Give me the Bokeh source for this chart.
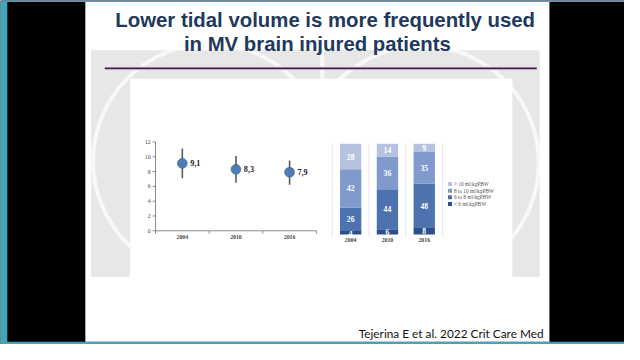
from bokeh.plotting import figure
from bokeh.models import Range1d
from bokeh.core.properties import value
from bokeh.embed import file_html
from bokeh.resources import INLINE

# ---------------- data ----------------
title_lines = ["Lower tidal volume is more frequently used", "in MV brain injured patients"]
citation = "Tejerina E et al. 2022 Crit Care Med"

years = ["2004", "2010", "2016"]
vt_mean = [9.1, 8.3, 7.9]
vt_low = [7.1, 6.5, 6.2]
vt_high = [11.1, 10.1, 9.5]
vt_labels = ["9,1", "8,3", "7,9"]
y_ticks = [0, 2, 4, 6, 8, 10, 12]

groups = ["< 6 ml/kgPBW", "6 to 8 ml/kgPBW", "8 to 10 ml/kgPBW", "> 10 ml/kgPBW"]
pct_lt6 = [4, 6, 8]
pct_6to8 = [26, 44, 48]
pct_8to10 = [42, 36, 35]
pct_gt10 = [28, 14, 9]
group_colors = ["#2D4E86", "#4C72B0", "#7F9ACB", "#B5C3E0"]

# ---------------- figure: whole 640x360 slide scene mapped into the plot ----------------
W, H = 624, 344
SW, SH = 640, 360
p = figure(width=W, height=H, x_range=Range1d(0, SW), y_range=Range1d(SH, 0),
           output_backend="svg", toolbar_location=None, min_border=0)
p.axis.visible = False
p.grid.visible = False
p.outline_line_color = None
p.background_fill_color = "#000000"
p.border_fill_color = "#000000"

def fs(px):
    return "%.2fpx" % (px * 0.97)

# frame edges (teal)
p.quad(left=0, right=SW, top=0, bottom=SH, fill_color="#3FA6BB", line_color=None)
p.quad(left=7, right=SW, top=1.5, bottom=357, fill_color="#000000", line_color=None)
# slide
p.quad(left=87, right=563, top=1.5, bottom=357, fill_color="#FFFFFF", line_color=None)
# grey watermark panel
p.quad(left=93, right=553, top=52, bottom=289, fill_color="#E7E7E7", line_color=None)
p.circle(x=[215, 432], y=[168, 170], radius=[120, 120], fill_color=None,
         line_color="#FFFFFF", line_width=4, line_alpha=0.7)
p.segment(x0=[330], y0=[52], x1=[330], y1=[82], line_color="#FFFFFF", line_width=4, line_alpha=0.7)
p.quad(left=133, right=525, top=82, bottom=300, fill_color="#FFFFFF", line_color=None)

# title
title_font = value("Liberation Sans")
p.text(x=[333, 325], y=[20, 45], text=title_lines, text_font=title_font,
       text_font_size=fs(21), text_font_style="bold", text_color="#22395C",
       text_align="center", text_baseline="middle")
# rule under title
p.segment(x0=[107], y0=[71], x1=[550], y1=[71], line_color="#F2D8EE", line_width=4)
p.segment(x0=[107], y0=[71], x1=[550], y1=[71], line_color="#3A2148", line_width=1.6)

# citation
p.text(x=[557], y=[348], text=[citation], text_font=value("Lato"), text_font_size=fs(12.2),
       text_color="#111111", text_align="right", text_baseline="middle")

# ---------------- chart scales ----------------
lx0, lstep = 159, 55.0
ly0, lscale = 241, 7.75
rx0, rstep = 340.25, 37.75
ry0, rscale = 245, 0.95
p.extra_x_ranges = {
    "lx": Range1d((0 - lx0) / lstep, (SW - lx0) / lstep),
    "rx": Range1d((0 - rx0) / rstep, (SW - rx0) / rstep),
}
p.extra_y_ranges = {
    "ly": Range1d((ly0 - SH) / lscale, (ly0 - 0) / lscale),
    "ry": Range1d((ry0 - SH) / rscale, (ry0 - 0) / rscale),
}
L = dict(x_range_name="lx", y_range_name="ly")
R = dict(x_range_name="rx", y_range_name="ry")

# ---------------- left chart: mean tidal volume ----------------
xs = [i + 0.5 for i in range(len(years))]
axis_col = "#8A8A8A"
serif = value("Liberation Serif")
p.segment(x0=[0], y0=[0], x1=[0], y1=[12], line_color=axis_col, line_width=1, **L)
p.segment(x0=[0], y0=[0], x1=[len(years)], y1=[0], line_color=axis_col, line_width=1, **L)
p.segment(x0=[-3 / lstep] * len(y_ticks), y0=y_ticks, x1=[0] * len(y_ticks), y1=y_ticks,
          line_color=axis_col, line_width=1, **L)
p.segment(x0=list(range(len(years) + 1)), y0=[0] * (len(years) + 1),
          x1=list(range(len(years) + 1)), y1=[-3 / lscale] * (len(years) + 1),
          line_color=axis_col, line_width=1, **L)
p.text(x=[-5 / lstep] * len(y_ticks), y=y_ticks, text=[str(t) for t in y_ticks],
       text_font=serif, text_font_size=fs(6), text_color="#444444",
       text_align="right", text_baseline="middle", **L)
p.text(x=xs, y=[-6 / lscale] * len(years), text=years, text_font=serif, text_font_size=fs(6),
       text_font_style="bold", text_color="#444444", text_align="center", text_baseline="middle", **L)
p.segment(x0=xs, y0=vt_low, x1=xs, y1=vt_high, line_color="#5A5A5A", line_width=1.6, **L)
p.scatter(x=xs, y=vt_mean, size=9.7, fill_color="#4F7CB5", line_color="#3F6699", line_width=0.8, **L)
p.text(x=[x + 8 / lstep for x in xs], y=vt_mean, text=vt_labels, text_font=serif,
       text_font_size=fs(8.5), text_font_style="bold", text_color="#1E1E1E",
       text_align="left", text_baseline="middle", **L)

# ---------------- right chart: stacked distribution ----------------
p.segment(x0=list(range(len(years) + 1)), y0=[-3] * (len(years) + 1),
          x1=list(range(len(years) + 1)), y1=[101] * (len(years) + 1),
          line_color="#E6E6E6", line_width=1, **R)
stack = [pct_lt6, pct_6to8, pct_8to10, pct_gt10]
bottoms = [0.0] * len(years)
for vals, col in zip(stack, group_colors):
    tops = [b + v for b, v in zip(bottoms, vals)]
    p.vbar(x=xs, width=0.58, bottom=bottoms, top=tops, fill_color=col, line_color=None, **R)
    p.text(x=xs, y=[(b + t) / 2 for b, t in zip(bottoms, tops)], text=[str(v) for v in vals],
           text_font=serif, text_font_size=fs(8), text_font_style="bold", text_color="#FFFFFF",
           text_align="center", text_baseline="middle", **R)
    bottoms = tops
p.text(x=xs, y=[-5.5] * len(years), text=years, text_font=serif, text_font_size=fs(6),
       text_font_style="bold", text_color="#444444", text_align="center", text_baseline="middle", **R)

# legend (top item = highest group)
leg_x = 461
leg_y = [192, 199, 206, 213]
leg_names = groups[::-1]
leg_cols = group_colors[::-1]
p.scatter(x=[leg_x] * 4, y=leg_y, marker="square", size=4, fill_color=leg_cols, line_color=None)
p.text(x=[leg_x + 4] * 4, y=leg_y, text=leg_names, text_font=serif, text_font_size=fs(5.5),
       text_color="#555555", text_align="left", text_baseline="middle")

open("out.html", "w").write(file_html(p, INLINE))
